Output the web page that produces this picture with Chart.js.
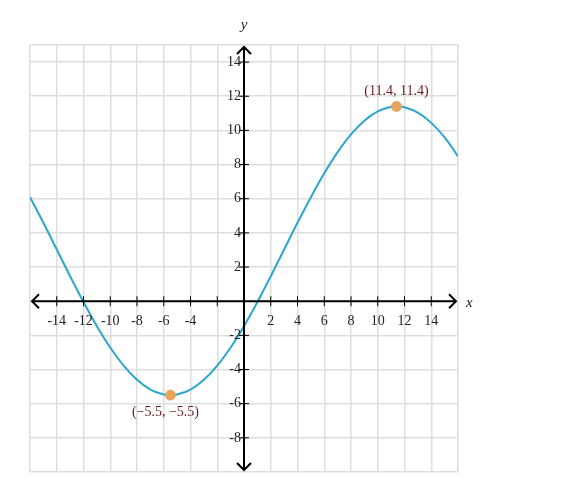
<!DOCTYPE html>
<html>
<head>
<meta charset="utf-8">
<script src="https://cdn.jsdelivr.net/npm/chart.js@4.4.1/dist/chart.umd.min.js"></script>
<style>
  html, body { margin: 0; padding: 0; background: #fff; }
  #wrap { width: 564px; height: 479px; }
</style>
</head>
<body>
<div id="wrap"><canvas id="chart"></canvas></div>
<script>
// curve samples
const curveX = [-16, -15, -14, -13, -12, -11, -10, -9, -8, -7, -6, -5.5, -5, -4, -3, -2, -1, 0,
                1, 2, 3, 4, 5, 6, 7, 8, 9, 10, 11, 11.4, 12, 13, 14, 15, 16];
const curveY = [6.09, 4.59, 3.03, 1.46, -0.05, -1.46, -2.71, -3.77, -4.6, -5.17, -5.46, -5.5, -5.46, -5.17, -4.6, -3.77, -2.71, -1.46,
                -0.05, 1.46, 3.03, 4.59, 6.09, 7.49, 8.73, 9.77, 10.57, 11.11, 11.38, 11.4, 11.36, 11.04, 10.44, 9.59, 8.48];

// marked extrema
const markX = [-5.5, 11.4];
const markY = [-5.5, 11.4];
const markLabels = ['(\u22125.5, \u22125.5)', '(11.4, 11.4)'];

const xTickLabels = [-14, -12, -10, -8, -6, -4, 2, 4, 6, 8, 10, 12, 14];
const yTickLabels = [-8, -6, -4, -2, 2, 4, 6, 8, 10, 12, 14];

const FONT = '"Liberation Serif", "DejaVu Serif", serif';

// draws the axes with arrows, ticks, labels and point captions
const axesPlugin = {
    id: 'axesPlugin',
    afterDatasetsDraw(chart) {
        const ctx = chart.ctx;
        const xs = chart.scales.x;
        const ys = chart.scales.y;
        const area = chart.chartArea;
        const x0 = xs.getPixelForValue(0);
        const y0 = ys.getPixelForValue(0);

        ctx.save();
        ctx.strokeStyle = '#000';
        ctx.lineWidth = 2;

        // axis lines
        ctx.beginPath();
        ctx.moveTo(area.left + 2, y0);
        ctx.lineTo(area.right - 2, y0);
        ctx.moveTo(x0, area.top + 2);
        ctx.lineTo(x0, area.bottom - 2);
        ctx.stroke();

        // arrow heads
        const a = 7;
        ctx.beginPath();
        ctx.moveTo(area.left + 2 + a, y0 - a); ctx.lineTo(area.left + 2, y0); ctx.lineTo(area.left + 2 + a, y0 + a);
        ctx.moveTo(area.right - 2 - a, y0 - a); ctx.lineTo(area.right - 2, y0); ctx.lineTo(area.right - 2 - a, y0 + a);
        ctx.moveTo(x0 - a, area.top + 2 + a); ctx.lineTo(x0, area.top + 2); ctx.lineTo(x0 + a, area.top + 2 + a);
        ctx.moveTo(x0 - a, area.bottom - 2 - a); ctx.lineTo(x0, area.bottom - 2); ctx.lineTo(x0 + a, area.bottom - 2 - a);
        ctx.stroke();

        // tick marks
        ctx.lineWidth = 1;
        ctx.beginPath();
        for (let v = -14; v <= 14; v += 2) {
            if (v === 0) continue;
            const px = xs.getPixelForValue(v);
            ctx.moveTo(px, y0 - 5); ctx.lineTo(px, y0 + 5);
        }
        for (let v = -8; v <= 14; v += 2) {
            if (v === 0) continue;
            const py = ys.getPixelForValue(v);
            ctx.moveTo(x0 - 5, py); ctx.lineTo(x0 + 5, py);
        }
        ctx.stroke();

        // tick labels
        ctx.fillStyle = '#222';
        ctx.font = '14px ' + FONT;
        ctx.textAlign = 'center';
        ctx.textBaseline = 'top';
        xTickLabels.forEach(v => {
            ctx.fillText(String(v), xs.getPixelForValue(v), y0 + 13);
        });
        ctx.textAlign = 'right';
        ctx.textBaseline = 'middle';
        yTickLabels.forEach(v => {
            ctx.fillText(String(v), x0 - 3, ys.getPixelForValue(v));
        });

        // axis names
        ctx.font = 'italic 15px ' + FONT;
        ctx.textAlign = 'center';
        ctx.textBaseline = 'alphabetic';
        ctx.fillText('y', x0, area.top - 16);
        ctx.textAlign = 'left';
        ctx.textBaseline = 'middle';
        ctx.fillText('x', area.right + 8, y0 + 2);

        // point captions
        ctx.fillStyle = '#6b1a1a';
        ctx.font = '14px ' + FONT;
        ctx.textAlign = 'center';
        ctx.textBaseline = 'top';
        ctx.fillText(markLabels[0], xs.getPixelForValue(markX[0]) - 5, ys.getPixelForValue(markY[0]) + 10);
        ctx.textBaseline = 'bottom';
        ctx.fillText(markLabels[1], xs.getPixelForValue(markX[1]), ys.getPixelForValue(markY[1]) - 8);
        ctx.restore();
    }
};

new Chart(document.getElementById('chart'), {
    type: 'scatter',
    data: {
        datasets: [{
            data: curveX.map((x, i) => ({ x: x, y: curveY[i] })),
            showLine: true,
            borderColor: '#2aa7c9',
            borderWidth: 2,
            pointRadius: 0,
            tension: 0.4,
            order: 2
        }, {
            data: markX.map((x, i) => ({ x: x, y: markY[i] })),
            showLine: false,
            backgroundColor: '#e9a45c',
            borderColor: '#e9a45c',
            pointRadius: 5,
            order: 1
        }]
    },
    options: {
        responsive: true,
        maintainAspectRatio: false,
        animation: false,
        layout: { padding: { left: 30, top: 45, right: 106, bottom: 7 } },
        plugins: { legend: { display: false }, tooltip: { enabled: false } },
        scales: {
            x: {
                type: 'linear', min: -16, max: 16,
                ticks: { display: false, stepSize: 2 },
                grid: { color: '#dedede', lineWidth: 1.5, drawTicks: false },
                border: { display: false }
            },
            y: {
                type: 'linear', min: -10, max: 15,
                ticks: { display: false, stepSize: 2 },
                grid: { color: '#dedede', lineWidth: 1.5, drawTicks: false },
                border: { display: false }
            }
        }
    },
    plugins: [axesPlugin]
});
</script>
</body>
</html>
